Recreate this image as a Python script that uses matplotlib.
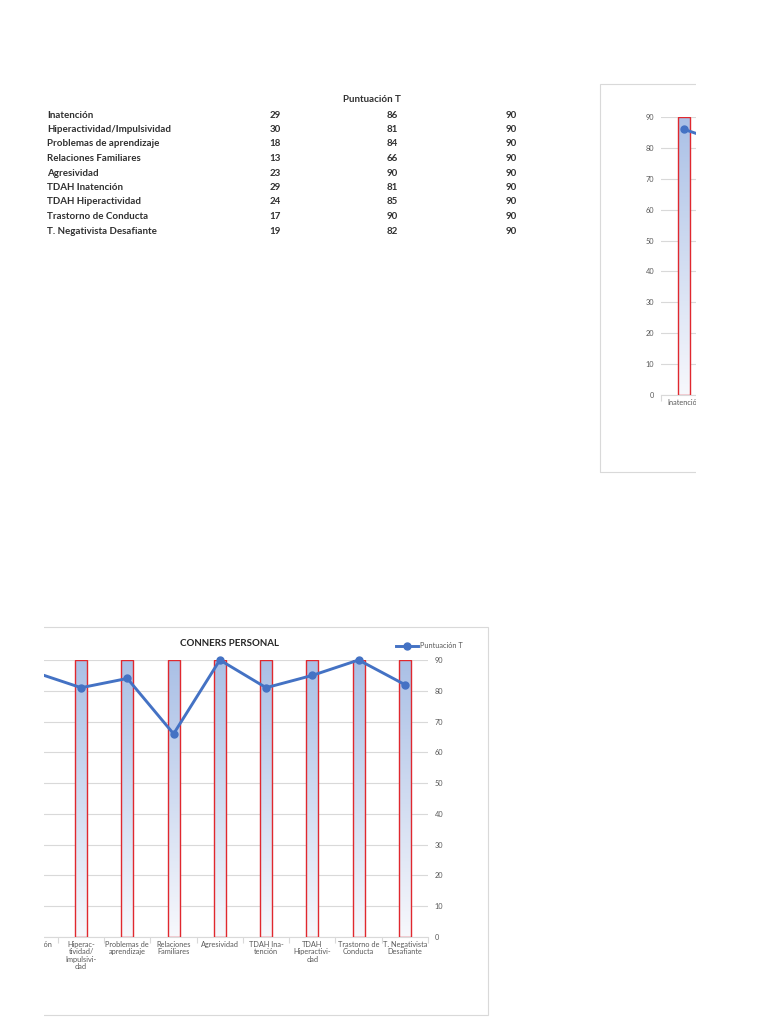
import numpy as np
import matplotlib
matplotlib.use("Agg")
import matplotlib.pyplot as plt
from matplotlib.colors import LinearSegmentedColormap
from matplotlib.patches import Rectangle

plt.rcParams['font.family'] = ['Lato', 'DejaVu Sans']

# datos de la tabla (escala Conners)
categorias = ["Inatención", "Hiperactividad/Impulsividad", "Problemas de aprendizaje",
              "Relaciones Familiares", "Agresividad", "TDAH Inatención",
              "TDAH Hiperactividad", "Trastorno de Conducta", "T. Negativista Desafiante"]
puntaje_directo = [29, 30, 18, 13, 23, 29, 24, 17, 19]
puntuacion_t = [86, 81, 84, 66, 90, 81, 85, 90, 82]
maximo = [90, 90, 90, 90, 90, 90, 90, 90, 90]
etiquetas = ["Inatención", "Hiperac-\ntividad/\nImpulsivi-\ndad", "Problemas de\naprendizaje",
             "Relaciones\nFamiliares", "Agresividad", "TDAH Ina-\ntención",
             "TDAH\nHiperactivi-\ndad", "Trastorno de\nConducta", "T. Negativista\nDesafiante"]
yticks = [0, 10, 20, 30, 40, 50, 60, 70, 80, 90]

W, H = 768, 1024
fig = plt.figure(figsize=(W / 100, H / 100), dpi=100)

GRID = '#d9d9d9'
AXTXT = '#595959'
AZUL = '#4472c4'
ROJO = '#e0282e'
grad = LinearSegmentedColormap.from_list('grad', ['#f7f8fc', '#aac0e6'])


def box(x0, y0, x1, y1):
    # pixel box (top-left origin) -> figure fraction rect
    return [x0 / W, 1 - y1 / H, (x1 - x0) / W, (y1 - y0) / H]


def fx(x):
    return x / W


def fy(y):
    return 1 - y / H


# tabla
txt = dict(fontsize=7, fontweight='bold', color='#303030', va='center')
fig.text(fx(372), fy(100), "Puntuación T", ha='center', **txt)
filas_y = [115, 129.5, 144, 158.5, 173, 187.5, 202, 216.5, 231]
for i, yy in enumerate(filas_y):
    fig.text(fx(47), fy(yy), categorias[i], ha='left', **txt)
    fig.text(fx(281), fy(yy), str(puntaje_directo[i]), ha='right', **txt)
    fig.text(fx(398), fy(yy), str(puntuacion_t[i]), ha='right', **txt)
    fig.text(fx(517), fy(yy), str(maximo[i]), ha='right', **txt)


def dibujar(ax, lado):
    x = np.arange(len(categorias))
    w = 0.26
    barras = ax.bar(x, maximo, width=w, facecolor='none', edgecolor=ROJO,
                    linewidth=1.0, zorder=3)
    g = np.linspace(0, 1, 256).reshape(-1, 1)
    for b in barras:
        im = ax.imshow(g, cmap=grad, origin='lower', aspect='auto',
                       extent=(b.get_x(), b.get_x() + b.get_width(), 0, b.get_height()),
                       zorder=2)
        im.set_clip_path(b)
    ax.plot(x, puntuacion_t, color=AZUL, lw=2.1, marker='o', ms=5,
            zorder=4, clip_on=False, label="Puntuación T")
    ax.set_xlim(-0.5, len(categorias) - 0.5)
    ax.set_ylim(0, 90)
    ax.set_yticks(yticks)
    ax.yaxis.grid(True, color=GRID, lw=0.8)
    ax.set_axisbelow(True)
    for s in ['top', 'left', 'right']:
        ax.spines[s].set_visible(False)
    ax.spines['bottom'].set_color(GRID)
    ax.spines['bottom'].set_linewidth(0.8)
    ax.set_xticks(x)
    ax.set_xticklabels(etiquetas, fontsize=5.3, color=AXTXT, linespacing=1.05)
    ax.set_xticks(np.arange(-0.5, len(categorias), 1), minor=True)
    ax.tick_params(axis='x', which='major', length=0, pad=3)
    ax.tick_params(axis='x', which='minor', length=4.5, color=GRID, width=0.8)
    ax.tick_params(axis='y', length=0, labelsize=5.3, labelcolor=AXTXT, pad=5)
    if lado == 'right':
        ax.yaxis.tick_right()


# grafico de la derecha (recortado por el borde de la captura)
fig.patches.append(Rectangle((fx(600), fy(472)), fx(300), (472 - 84) / H,
                             transform=fig.transFigure, fill=False,
                             edgecolor=GRID, lw=0.8, zorder=0))
ax1 = fig.add_axes(box(661, 117, 661 + 9 * 46, 395))
dibujar(ax1, 'left')
# solo la primera etiqueta queda dentro de la captura
for lbl in ax1.get_xticklabels()[1:]:
    lbl.set_visible(False)

# grafico inferior
fig.patches.append(Rectangle((fx(-20), fy(1015)), fx(508), (1015 - 627) / H,
                             transform=fig.transFigure, fill=False,
                             edgecolor=GRID, lw=0.8, zorder=0))
ax2 = fig.add_axes(box(11.7, 660, 428, 937))
dibujar(ax2, 'right')
fig.text(fx(229), fy(643), "CONNERS PERSONAL", ha='center', va='center',
         fontsize=7, fontweight='bold', color='#262626')
ax2.legend(loc='center left', bbox_to_anchor=(fx(396), fy(646)),
           bbox_transform=fig.transFigure, frameon=False, fontsize=5.3,
           handlelength=3.0, handletextpad=0.2, borderpad=0, borderaxespad=0,
           labelcolor=AXTXT)

# recortes como en la captura
fig.patches.append(Rectangle((fx(696), fy(480)), fx(80), (480 - 78) / H,
                             transform=fig.transFigure, facecolor='white',
                             edgecolor='none', zorder=20))
fig.patches.append(Rectangle((fx(0), fy(1022)), fx(44), (1022 - 620) / H,
                             transform=fig.transFigure, facecolor='white',
                             edgecolor='none', zorder=20))

fig.savefig("out.png", dpi=100, facecolor='white')
